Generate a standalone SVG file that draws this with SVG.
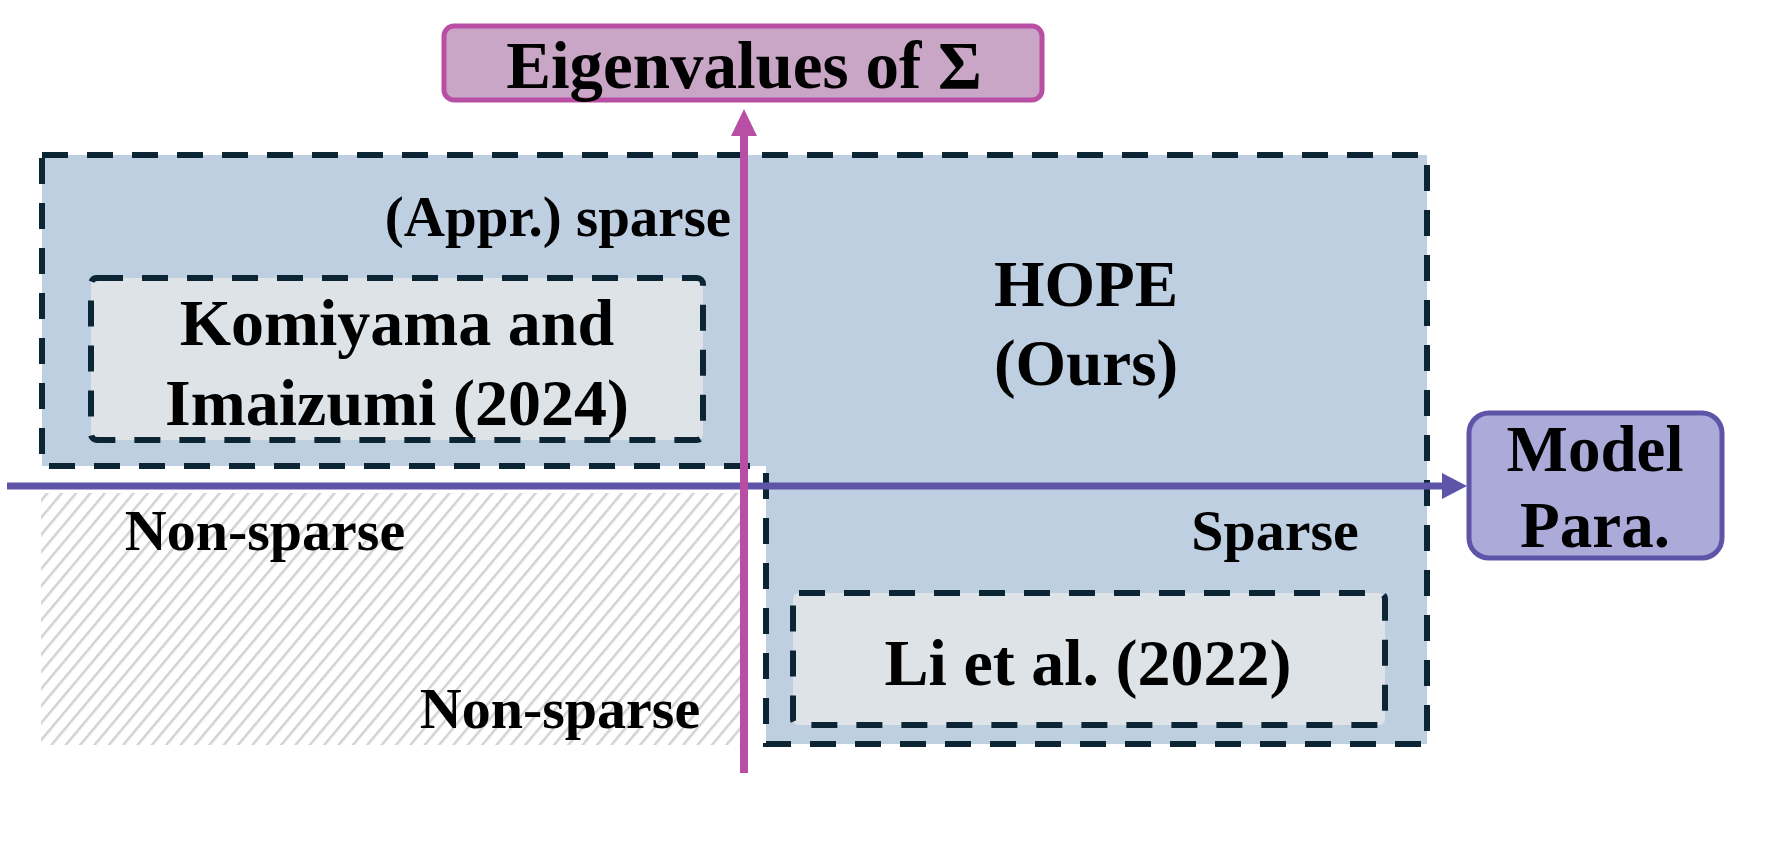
<svg xmlns="http://www.w3.org/2000/svg" width="1776" height="848" viewBox="0 0 1776 848">
<style>
  .t{font-family:"Liberation Serif","Times New Roman",serif;font-weight:bold;fill:#000;text-anchor:middle}
  .dash{stroke:#0c2535;stroke-width:6;stroke-dasharray:26 19;fill:none}
</style>
<defs>
  <pattern id="hatch" width="11" height="11" patternUnits="userSpaceOnUse" patternTransform="rotate(40)">
    <rect width="11" height="11" fill="#ffffff"/>
    <line x1="0" y1="0" x2="0" y2="11" stroke="#d2d2d2" stroke-width="5"/>
  </pattern>
</defs>
<rect width="1776" height="848" fill="#ffffff"/>

<g id="region-blue">
  <path d="M42,155 L1427,155 L1427,744 L766,744 L766,466 L42,466 Z" fill="#bfcfe2"/>
  <path d="M42,155 L1427,155 L1427,744 L766,744 L766,470" class="dash"/>
  <path d="M750,466 L42,466 L42,155" class="dash"/>
</g>

<g id="region-hatch">
  <rect x="41" y="493" width="699" height="252" fill="url(#hatch)"/>
</g>

<g id="komiyama">
  <rect x="91" y="278" width="612" height="162" rx="6" class="dash" style="fill:#dde3e6"/>
  <text class="t" x="397" y="345" font-size="66">Komiyama and</text>
  <text class="t" x="397" y="425" font-size="66">Imaizumi (2024)</text>
</g>

<g id="li">
  <rect x="793" y="593" width="592" height="132" rx="6" class="dash" style="fill:#dde3e6"/>
  <text class="t" x="1088" y="685" font-size="66">Li et al. (2022)</text>
</g>

<g id="labels">
  <text class="t" x="558" y="236" font-size="57">(Appr.) sparse</text>
  <text class="t" x="1086" y="306" font-size="65">HOPE</text>
  <text class="t" x="1086" y="385" font-size="65">(Ours)</text>
  <text class="t" x="265" y="550" font-size="58">Non-sparse</text>
  <text class="t" x="560" y="728" font-size="58">Non-sparse</text>
  <text class="t" x="1275" y="550" font-size="58">Sparse</text>
</g>

<g id="connectors">
  <line x1="7" y1="486" x2="1447" y2="486" stroke="#5e55a8" stroke-width="7"/>
  <path d="M1442,473 L1467,486 L1442,499 Z" fill="#5e55a8"/>
  <line x1="744" y1="773" x2="744" y2="132" stroke="#b94fa5" stroke-width="8"/>
  <path d="M731,136 L744,109 L757,136 Z" fill="#b94fa5"/>
</g>

<g id="eigen">
  <rect x="444" y="26" width="598" height="74" rx="10" fill="#c9a6c5" stroke="#b94fa5" stroke-width="5"/>
  <text class="t" x="744" y="88" font-size="67">Eigenvalues of Σ</text>
</g>

<g id="model">
  <rect x="1469" y="413" width="253" height="145" rx="20" fill="#abaad9" stroke="#5e55a8" stroke-width="5"/>
  <text class="t" x="1595" y="471" font-size="65">Model</text>
  <text class="t" x="1595" y="547" font-size="65">Para.</text>
</g>
</svg>
